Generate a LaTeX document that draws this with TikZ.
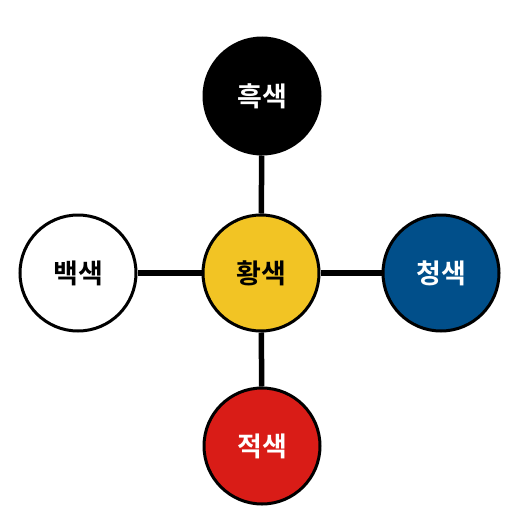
\documentclass[tikz,border=0pt]{standalone}
\usepackage{fontspec}
\usepackage{xcolor}
\newfontfamily\kofont{Noto Sans CJK KR}[BoldFont={* Bold}]
\definecolor{hwang}{HTML}{F2C424}
\definecolor{cheong}{HTML}{014F8A}
\definecolor{jeok}{HTML}{D91C17}
\tikzset{
  colour/.style={circle, draw=black, line width=3pt, minimum size=116pt,
    inner sep=0pt, font=\kofont\bfseries\fontsize{27}{27}\selectfont},
  link/.style={line width=5.5pt}
}

\begin{document}
\begin{tikzpicture}[x=1pt,y=-1pt]
\useasboundingbox (0,0) rectangle (524,530);
\node[colour, fill=hwang] (yellow) at (261,273) {황색};
\node[colour, fill=black, text=white] (black) at (262,96) {흑색};
\node[colour, fill=white] (white) at (78,273) {백색};
\node[colour, fill=cheong, text=white] (blue) at (441,273) {청색};
\node[colour, fill=jeok, text=white] (red) at (262,446) {적색};
\draw[link] (yellow) -- (black);
\draw[link] (yellow) -- (white);
\draw[link] (yellow) -- (blue);
\draw[link] (yellow) -- (red);
\end{tikzpicture}
\end{document}
